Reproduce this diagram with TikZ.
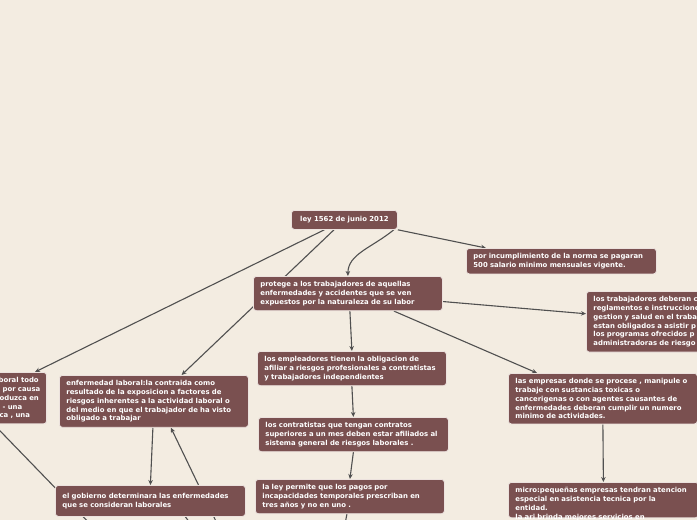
\documentclass[tikz,border=0pt]{standalone}
\usepackage{fontspec}
\setmainfont{DejaVu Sans}
\usepackage{tikz}
\usetikzlibrary{positioning,calc}
\usetikzlibrary{arrows.meta}
\definecolor{pagebg}{RGB}{243,236,225}
\definecolor{boxfill}{RGB}{122,80,80}
\definecolor{boxedge}{RGB}{236,226,222}
\definecolor{linkcol}{RGB}{80,80,80}
\pgfdeclarelayer{bg}
\pgfsetlayers{bg,main}

\begin{document}
\begin{tikzpicture}[x=1pt,y=-1pt,
    mapbox/.style={fill=boxfill, draw=boxedge, line width=0.8pt, rounded corners=3pt,
      text=white, font=\fontsize{6.9}{8.8}\selectfont\bfseries, align=left,
      inner xsep=7pt, inner ysep=5pt, anchor=north west},
    link/.style={draw=linkcol, line width=1.1pt},
    linkarrow/.style={link, -{Stealth[length=5pt,width=4.5pt]}}]
  \useasboundingbox (0,0) rectangle (697,520);
  \clip (0,0) rectangle (697,520);
  % boxes
  \node[mapbox, align=center, minimum width=106pt, minimum height=19pt, inner xsep=3pt, inner ysep=2pt] (ley) at (291,210) {ley 1562 de junio 2012};
  \node[mapbox, text width=176pt] (incump) at (466,248) {por incumplimiento de la norma se pagaran\\500 salario minimo mensuales vigente.};
  \node[mapbox, text width=175pt] (protege) at (253,276) {protege a los trabajadores de aquellas\\enfermedades y accidentes que se ven\\expuestos por la naturaleza de su labor};
  \node[mapbox, text width=140pt] (trab) at (586,291) {los trabajadores deberan c\\reglamentos e instruccione\\gestion y salud en el traba\\estan obligados a asistir p\\los programas ofrecidos p\\administradoras de riesgo};
  \node[mapbox, anchor=north east, inner xsep=3pt, text width=260pt] (accid) at (47,372) {\hspace*{215pt}boral todo\\\hspace*{219pt}por causa\\\hspace*{216pt}oduzca en\\\hspace*{219pt}- una\\\hspace*{216pt}ca , una};
  \node[mapbox, text width=175pt] (enferm) at (59,375) {enfermedad laboral:la contraida como\\resultado de la exposicion a factores de\\riesgos inherentes a la actividad laboral o\\del medio en que el trabajador de ha visto\\obligado a trabajar};
  \node[mapbox, text width=175pt] (emple) at (257,351) {los empleadores tienen la obligacion de\\afiliar a riesgos profesionales a contratistas\\y trabajadores independientes};
  \node[mapbox, text width=175pt] (empresas) at (508,373) {las empresas donde se procese , manipule o\\trabaje con sustancias toxicas o\\cancerigenas o con agentes causantes de\\enfermedades deberan cumplir un numero\\minimo de actividades.};
  \node[mapbox, text width=176pt] (contrat) at (258,417) {los contratistas que tengan contratos\\superiores a un mes deben estar afiliados al\\sistema general de riesgos laborales .};
  \node[mapbox, text width=175pt] (leyperm) at (255,479) {la ley permite que los pagos por\\incapacidades temporales prescriban en\\tres años y no en uno .};
  \node[mapbox, text width=176pt, minimum height=31pt] (gobierno) at (55,485) {el gobierno determinara las enfermedades\\que se consideran laborales};
  \node[mapbox, text width=176pt, text depth=20pt] (micro) at (508,482) {micro:pequeñas empresas tendran atencion\\especial en asistencia tecnica por la\\entidad.\\la ari brinda mejores servicios en};
  % connectors behind the boxes
  \begin{pgfonlayer}{bg}
    \clip (0,0) rectangle (697,520);
    \fill[pagebg] (0,0) rectangle (697,520);
    \coordinate (belowley) at (343,535);
    \coordinate (belowacc) at (96,530);
    \coordinate (belowgob) at (199,535);
    \coordinate (belowenf) at (225,540);
    \draw[linkarrow] (ley) -- ([xshift=-12pt]accid.north east);
    \draw[linkarrow] (ley) -- (enferm);
    \draw[linkarrow] ([xshift=-4pt]ley.south east) .. controls +(-22,18) and +(0,-22) .. (protege.north);
    \draw[linkarrow] (ley.south east) -- ([xshift=20pt]incump.north west);
    \draw[linkarrow] ([xshift=2pt]protege.south) -- (emple.north);
    \draw[linkarrow] ([yshift=-8pt]protege.east) -- ([yshift=8pt]trab.west);
    \draw[linkarrow] ([xshift=46pt]protege.south) -- ([xshift=29pt]empresas.north west);
    \draw[linkarrow] (emple.south) -- (contrat.north);
    \draw[linkarrow] (contrat.south) -- (leyperm.north);
    \draw[link] ([xshift=-3pt]leyperm.south) -- (belowley);
    \draw[linkarrow] (empresas.south) -- (micro.north);
    \draw[linkarrow] ([xshift=-1pt]enferm.south) -- (gobierno.north);
    \draw[linkarrow] (belowenf) -- ([xshift=17pt]enferm.south);
    \draw[link] ([xshift=80pt]accid.south) -- (belowacc);
    \draw[link] ([xshift=35pt]gobierno.south) -- (belowgob);
  \end{pgfonlayer}
\end{tikzpicture}
\end{document}
